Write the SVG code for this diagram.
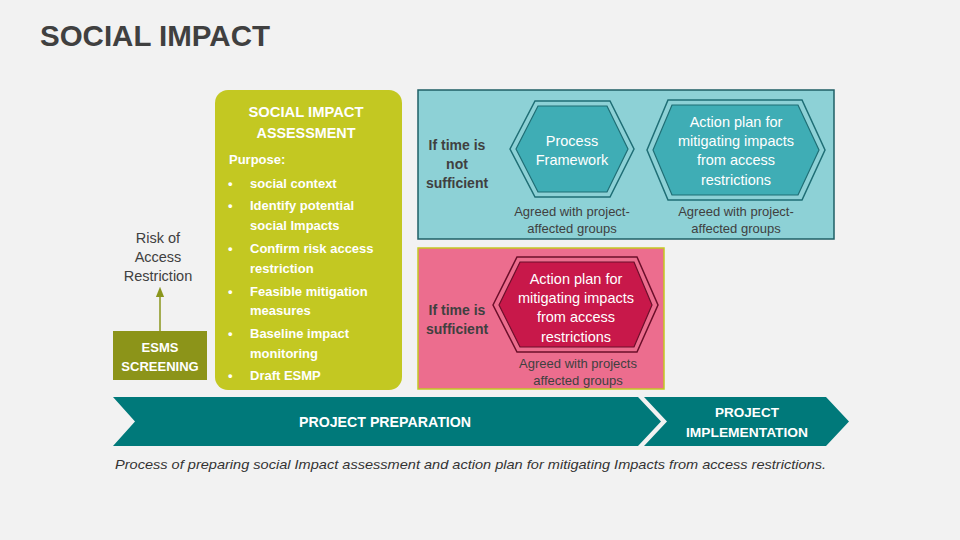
<svg xmlns="http://www.w3.org/2000/svg" width="960" height="540" viewBox="0 0 960 540">
<style>
text{font-family:"Liberation Sans",Arial,sans-serif}
.w{fill:#fff}
.b{font-weight:bold}
.dk{fill:#404040}
.c{text-anchor:middle}
.hx{font-size:14.5px;fill:#fff;text-anchor:middle}
.ag{font-size:13px;fill:#404040;text-anchor:middle}
.li{font-size:13px;font-weight:bold;fill:#fff}
</style>
<defs>
<marker id="ah" viewBox="0 0 10 10" refX="5" refY="5" markerWidth="7" markerHeight="7" orient="auto">
<path d="M0,1 L10,5 L0,9 z" fill="#8A961C"/>
</marker>
</defs>
<rect width="960" height="540" fill="#F2F2F2"/>
<text x="40" y="46" font-size="30" class="b" fill="#404040" textLength="230" lengthAdjust="spacingAndGlyphs">SOCIAL IMPACT</text>

<g id="connectors">
<line x1="160" y1="331" x2="160" y2="292" stroke="#8A961C" stroke-width="1.5" marker-end="url(#ah)"/>
</g>

<g id="risk">
<text x="158" y="243" font-size="14.5" class="dk c">Risk of</text>
<text x="158" y="262" font-size="14.5" class="dk c">Access</text>
<text x="158" y="281" font-size="14.5" class="dk c">Restriction</text>
</g>

<g id="esms">
<rect x="113" y="331" width="94" height="49" fill="#8C9419"/>
<text x="160" y="352" font-size="13" class="w b c">ESMS</text>
<text x="160" y="371" font-size="13" class="w b c">SCREENING</text>
</g>

<g id="sia">
<rect x="215" y="90" width="187" height="300" rx="13" fill="#C3C822"/>
<text x="306" y="117" font-size="15" class="w b c" textLength="115" lengthAdjust="spacingAndGlyphs">SOCIAL IMPACT</text>
<text x="306" y="138" font-size="15" class="w b c" textLength="99" lengthAdjust="spacingAndGlyphs">ASSESSMENT</text>
<text x="229" y="164" class="li">Purpose:</text>
<g class="li">
<text x="228" y="188">•</text><text x="250" y="188">social context</text>
<text x="228" y="210">•</text><text x="250" y="210">Identify potential</text>
<text x="250" y="230">social Impacts</text>
<text x="228" y="253">•</text><text x="250" y="253">Confirm risk access</text>
<text x="250" y="273">restriction</text>
<text x="228" y="296">•</text><text x="250" y="296">Feasible mitigation</text>
<text x="250" y="315">measures</text>
<text x="228" y="338">•</text><text x="250" y="338">Baseline impact</text>
<text x="250" y="358">monitoring</text>
<text x="228" y="380">•</text><text x="250" y="380">Draft ESMP</text>
</g>
</g>

<g id="not-sufficient">
<rect x="418" y="90" width="416" height="149" fill="#8DD1D6" stroke="#1F5F66" stroke-width="1.5"/>
<text x="457" y="150" font-size="14" class="dk b c">If time is</text>
<text x="457" y="169" font-size="14" class="dk b c">not</text>
<text x="457" y="188" font-size="14" class="dk b c">sufficient</text>
</g>

<g id="process-framework">
<polygon points="510,149 535,101 610,101 634,149 610,197 535,197" fill="#8DD1D6" stroke="#1F6E75" stroke-width="1.5"/>
<polygon points="516,149 538,106 607,106 628,149 607,192 538,192" fill="#3FADB5" stroke="#1F6E75" stroke-width="1.2"/>
<text x="572" y="146" class="hx">Process</text>
<text x="572" y="165" class="hx">Framework</text>
<text x="572" y="216" class="ag">Agreed with project-</text>
<text x="572" y="233" class="ag">affected groups</text>
</g>

<g id="action-plan-1">
<polygon points="647,150 668,100 802,100 825,150 802,200 668,200" fill="#8DD1D6" stroke="#1F6E75" stroke-width="1.5"/>
<polygon points="653,150 672,105 798,105 819,150 798,195 672,195" fill="#3FADB5" stroke="#1F6E75" stroke-width="1.2"/>
<text x="736" y="127" class="hx">Action plan for</text>
<text x="736" y="146" class="hx">mitigating impacts</text>
<text x="736" y="165" class="hx">from access</text>
<text x="736" y="185" class="hx">restrictions</text>
<text x="736" y="216" class="ag">Agreed with project-</text>
<text x="736" y="233" class="ag">affected groups</text>
</g>

<g id="sufficient">
<rect x="418" y="248" width="246" height="141" fill="#EC6D8E" stroke="#C3C822" stroke-width="1.5"/>
<text x="457" y="315" font-size="14" class="dk b c">If time is</text>
<text x="457" y="334" font-size="14" class="dk b c">sufficient</text>
</g>

<g id="action-plan-2">
<polygon points="493,305 517,257 637,257 658,305 637,352 517,352" fill="#EC6D8E" stroke="#6B0F2A" stroke-width="1.5"/>
<polygon points="499,305 520,262 634,262 652,305 634,347 520,347" fill="#C8184A" stroke="#6B0F2A" stroke-width="1.2"/>
<text x="576" y="284" class="hx">Action plan for</text>
<text x="576" y="303" class="hx">mitigating impacts</text>
<text x="576" y="322" class="hx">from access</text>
<text x="576" y="342" class="hx">restrictions</text>
<text x="578" y="368" class="ag">Agreed with projects</text>
<text x="578" y="385" class="ag">affected groups</text>
</g>

<g id="project-preparation">
<polygon points="113,397 638,397 661,421.5 638,446 113,446 135,421.5" fill="#00797A"/>
<text x="385" y="427" font-size="15.5" class="w b c" textLength="172" lengthAdjust="spacingAndGlyphs">PROJECT PREPARATION</text>
</g>

<g id="project-implementation">
<polygon points="644,397 826,397 849,421.5 826,446 644,446 667,421.5" fill="#00797A"/>
<text x="747" y="417" font-size="13.5" class="w b c">PROJECT</text>
<text x="747" y="437" font-size="13.5" class="w b c" textLength="122" lengthAdjust="spacingAndGlyphs">IMPLEMENTATION</text>
</g>

<text x="115" y="469" font-size="13" font-style="italic" fill="#333" textLength="711" lengthAdjust="spacingAndGlyphs">Process of preparing social Impact assessment and action plan for mitigating Impacts from access restrictions.</text>
</svg>
